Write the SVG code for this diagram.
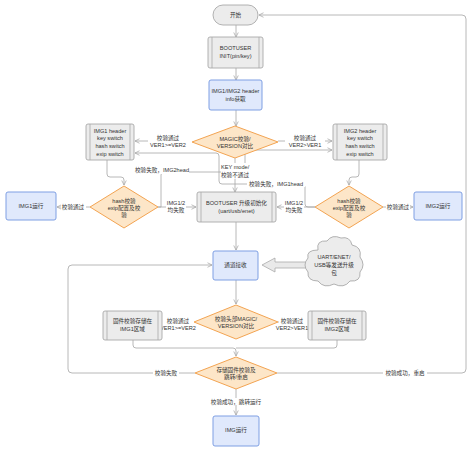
<svg xmlns="http://www.w3.org/2000/svg" width="474" height="450" viewBox="0 0 474 450">
<defs>
<style>
.t{font-family:'Liberation Sans','Noto Sans CJK SC',sans-serif;font-size:5.6px;fill:#333;text-anchor:middle}
.gray{fill:#ececec;stroke:#a9a9a9;stroke-width:0.9}
.blue{fill:#e0e9fc;stroke:#7f9fe3;stroke-width:1}
.dia{fill:#fde6c8;stroke:#f3a452;stroke-width:1}
.in{stroke:#a9a9a9;stroke-width:0.8;fill:none}
.c{fill:none;stroke:#a6a6a6;stroke-width:0.8}
.lb{fill:#fff}
</style>
<marker id="ar" viewBox="0 0 8 8" refX="7" refY="4" markerWidth="6" markerHeight="6" orient="auto" markerUnits="userSpaceOnUse">
<polyline points="1,1 7,4 1,7" fill="none" stroke="#a6a6a6" stroke-width="1"/>
</marker>
</defs>
<rect width="474" height="450" fill="#fff"/>

<g id="connectors">
<path class="c" d="M236,25V37" marker-end="url(#ar)"/>
<path class="c" d="M236,68V80" marker-end="url(#ar)"/>
<path class="c" d="M236,110V126" marker-end="url(#ar)"/>
<path class="c" d="M192,141H135" marker-end="url(#ar)"/>
<path class="c" d="M278,141H332" marker-end="url(#ar)"/>
<path class="c" d="M235,158V192" marker-end="url(#ar)"/>
<path class="c" d="M107,160V174Q107,177 110,177H121Q124,177 124,180V185" marker-end="url(#ar)"/>
<path class="c" d="M359,160V174Q359,177 356,177H352Q349,177 349,180V185" marker-end="url(#ar)"/>
<path class="c" d="M90,207H57" marker-end="url(#ar)"/>
<path class="c" d="M383,207H413" marker-end="url(#ar)"/>
<path class="c" d="M158,207H196" marker-end="url(#ar)"/>
<path class="c" d="M315,207H277" marker-end="url(#ar)"/>
<path class="c" d="M315,207H308Q305,207 305,204V187Q305,184 302,184H222Q219,184 219,181V156Q219,153 216,153H135" marker-end="url(#ar)"/>
<path class="c" d="M158,207H161V175Q161,172 164,172H242Q245,172 245,169V153Q245,150 248,150H332" marker-end="url(#ar)"/>
<path class="c" d="M236,222V250" marker-end="url(#ar)"/>
<path class="c" d="M236,280V304" marker-end="url(#ar)"/>
<path class="c" d="M194,322H163" marker-end="url(#ar)"/>
<path class="c" d="M278,322H307" marker-end="url(#ar)"/>
<path class="c" d="M133,340V345Q133,348 136,348H233Q236,348 236,351V356" marker-end="url(#ar)"/>
<path class="c" d="M337,340V345Q337,348 334,348H236"/>
<path class="c" d="M195,373H72Q68,373 68,369V269Q68,265 72,265H212" marker-end="url(#ar)"/>
<path class="c" d="M277,373H462Q466,373 466,369V19Q466,15 462,15H259" marker-end="url(#ar)"/>
<path class="c" d="M236,389V415" marker-end="url(#ar)"/>
</g>

<g id="labels">
<rect class="lb" x="148" y="134" width="44" height="14"/>
<text class="t" x="168" y="140">校验通过</text>
<text class="t" x="168" y="147">VER1&gt;=VER2</text>
<rect class="lb" x="285" y="134" width="40" height="14"/>
<text class="t" x="305" y="140">校验通过</text>
<text class="t" x="305" y="147">VER2&gt;VER1</text>
<rect class="lb" x="221" y="163" width="40" height="16"/>
<text class="t" x="221" y="169" style="text-anchor:start">KEY mode/</text>
<text class="t" x="221" y="177" style="text-anchor:start">校验不通过</text>
<rect class="lb" x="135" y="167" width="54" height="7"/>
<text class="t" x="162" y="172">校验失败，IMG2head</text>
<rect class="lb" x="247" y="180" width="58" height="7"/>
<text class="t" x="276" y="186">校验失败，IMG1head</text>
<rect class="lb" x="61" y="203" width="25" height="7"/>
<text class="t" x="73" y="209">校验通过</text>
<rect class="lb" x="386" y="203" width="24" height="7"/>
<text class="t" x="398" y="209">校验通过</text>
<rect class="lb" x="166" y="200" width="20" height="14"/>
<text class="t" x="176" y="205">IMG1/2</text>
<text class="t" x="176" y="212">均失败</text>
<rect class="lb" x="284" y="200" width="20" height="14"/>
<text class="t" x="294" y="205">IMG1/2</text>
<text class="t" x="294" y="212">均失败</text>
<rect class="lb" x="163" y="317" width="31" height="15"/>
<text class="t" x="178" y="323">校验通过</text>
<text class="t" x="178" y="330">VER1&gt;=VER2</text>
<rect class="lb" x="279" y="317" width="28" height="15"/>
<text class="t" x="292" y="323">校验通过</text>
<text class="t" x="292" y="330">VER2&gt;VER1</text>
<rect class="lb" x="153" y="369" width="26" height="7"/>
<text class="t" x="166" y="375">校验失败</text>
<rect class="lb" x="383" y="369" width="44" height="7"/>
<text class="t" x="405" y="375">校验成功，重启</text>
<rect class="lb" x="208" y="398" width="56" height="7"/>
<text class="t" x="236" y="404">校验成功，跳转运行</text>
</g>

<g id="start">
<rect x="213" y="5" width="45" height="20" rx="10" class="gray"/>
<text class="t" x="235.5" y="17">开始</text>
</g>
<g id="bootuser-init">
<rect x="208" y="37" width="55" height="31" rx="2" class="gray"/>
<path class="in" d="M212,37V68M259,37V68"/>
<text class="t" x="235.5" y="50">BOOTUSER</text>
<text class="t" x="235.5" y="58">INIT(pin/key)</text>
</g>
<g id="header-info">
<rect x="209" y="80" width="53" height="30" rx="2" class="blue"/>
<text class="t" x="235.5" y="93">IMG1/IMG2 header</text>
<text class="t" x="235.5" y="101">info获取</text>
</g>
<g id="magic-check">
<polygon points="235,126 278,142 235,158 192,142" class="dia"/>
<text class="t" x="235" y="141">MAGIC校验/</text>
<text class="t" x="235" y="148">VERSION对比</text>
</g>
<g id="img1-header">
<rect x="86" y="124" width="48" height="36" rx="2" class="gray"/>
<path class="in" d="M90,124V160M130,124V160"/>
<text class="t" x="110" y="133">IMG1 header</text>
<text class="t" x="110" y="140">key switch</text>
<text class="t" x="110" y="148">hash switch</text>
<text class="t" x="110" y="156">exip switch</text>
</g>
<g id="img2-header">
<rect x="333" y="124" width="54" height="36" rx="2" class="gray"/>
<path class="in" d="M337,124V160M383,124V160"/>
<text class="t" x="360" y="133">IMG2 header</text>
<text class="t" x="360" y="140">key switch</text>
<text class="t" x="360" y="148">hash switch</text>
<text class="t" x="360" y="156">exip switch</text>
</g>
<g id="hash-left">
<polygon points="124,186 158,207 124,228 90,207" class="dia"/>
<text class="t" x="124" y="203">hash校验</text>
<text class="t" x="124" y="210">exip配置及校</text>
<text class="t" x="124" y="217">验</text>
</g>
<g id="hash-right">
<polygon points="349,186 383,207 349,228 315,207" class="dia"/>
<text class="t" x="349" y="203">hash校验</text>
<text class="t" x="349" y="210">exip配置及校</text>
<text class="t" x="349" y="217">验</text>
</g>
<g id="img1-run">
<rect x="6" y="192" width="50" height="28" rx="2" class="blue"/>
<text class="t" x="31" y="208">IMG1运行</text>
</g>
<g id="img2-run">
<rect x="414" y="192" width="48" height="28" rx="2" class="blue"/>
<text class="t" x="438" y="208">IMG2运行</text>
</g>
<g id="bootuser-upgrade">
<rect x="197" y="192" width="79" height="30" rx="2" class="gray"/>
<path class="in" d="M201,192V222M272,192V222"/>
<text class="t" x="236.5" y="205">BOOTUSER 升级初始化</text>
<text class="t" x="236.5" y="213">(uart/usb/enet)</text>
</g>
<g id="channel-recv">
<rect x="213" y="251" width="45" height="29" rx="2" class="blue"/>
<text class="t" x="235.5" y="267">通道接收</text>
</g>
<g id="cloud">
<path d="M262,265 L275,258 V262 H310 V268 H275 V272 Z" fill="#e9e9e9" stroke="#a9a9a9" stroke-width="0.8"/>
<path d="M318,250 Q316,240 327,241 Q332,234 341,238 Q350,236 352,245 Q362,247 360,257 Q366,265 360,272 Q361,282 350,281 Q344,289 334,284 Q324,289 318,281 Q307,281 308,272 Q302,265 308,258 Q306,250 318,250 Z" fill="#ececec" stroke="#a9a9a9" stroke-width="0.9"/>
<text class="t" x="334" y="259">UART/ENET/</text>
<text class="t" x="334" y="267">USB等发送升级</text>
<text class="t" x="334" y="275">包</text>
</g>
<g id="header-check">
<polygon points="236,305 278,322 236,339 194,322" class="dia"/>
<text class="t" x="236" y="321">校验头部MAGIC/</text>
<text class="t" x="236" y="328">VERSION对比</text>
</g>
<g id="store-img1">
<rect x="103" y="311" width="59" height="29" rx="2" class="gray"/>
<path class="in" d="M107,311V340M158,311V340"/>
<text class="t" x="132.5" y="323">固件校验存储在</text>
<text class="t" x="132.5" y="331">IMG1区域</text>
</g>
<g id="store-img2">
<rect x="308" y="311" width="58" height="29" rx="2" class="gray"/>
<path class="in" d="M312,311V340M362,311V340"/>
<text class="t" x="337" y="323">固件校验存储在</text>
<text class="t" x="337" y="331">IMG2区域</text>
</g>
<g id="store-check">
<polygon points="236,357 277,373 236,389 195,373" class="dia"/>
<text class="t" x="236" y="372">存储固件校验及</text>
<text class="t" x="236" y="379">跳转/重启</text>
</g>
<g id="img-run">
<rect x="213" y="416" width="46" height="30" rx="2" class="blue"/>
<text class="t" x="236" y="432">IMG运行</text>
</g>
</svg>
